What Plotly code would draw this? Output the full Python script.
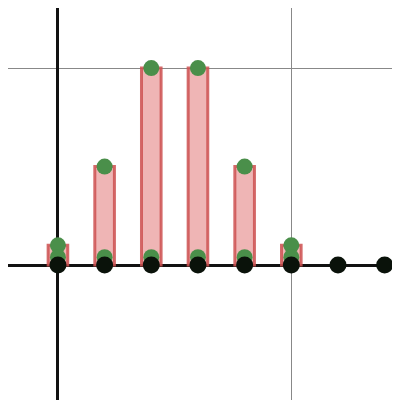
import plotly.graph_objects as go

ks = [0, 1, 2, 3, 4, 5]
coef = [1, 5, 10, 10, 5, 1]
dots_x = [0, 1, 2, 3, 4, 5, 6, 7]
dots_y = [0, 0, 0, 0, 0, 0, 0, 0]

fig = go.Figure()
fig.add_trace(go.Bar(x=ks, y=coef, width=0.42,
                     marker=dict(color="rgba(225,120,120,0.55)",
                                 line=dict(color="rgba(205,80,80,0.85)", width=3))))
fig.add_trace(go.Scatter(x=ks, y=coef, mode="markers",
                         marker=dict(color="#4a8f4a", size=16)))
fig.add_trace(go.Scatter(x=ks, y=[0.4]*len(ks), mode="markers",
                         marker=dict(color="#4a8f4a", size=16)))
fig.add_trace(go.Scatter(x=dots_x, y=dots_y, mode="markers",
                         marker=dict(color="#0a120a", size=17)))
fig.update_layout(width=400, height=400, autosize=False,
                  margin=dict(l=0, r=0, t=0, b=0, pad=0, autoexpand=False),
                  plot_bgcolor="white", paper_bgcolor="white", showlegend=False)
fig.update_xaxes(range=[-1.07, 7.5], dtick=5, showgrid=True, gridcolor="#888",
                 gridwidth=1, zeroline=True, zerolinecolor="#111", zerolinewidth=2.5,
                 showticklabels=False, fixedrange=True, automargin=False, ticks="")
fig.update_yaxes(range=[-7.26, 13.05], dtick=10, showgrid=True, gridcolor="#888",
                 gridwidth=1, zeroline=True, zerolinecolor="#111", zerolinewidth=2.5,
                 showticklabels=False, fixedrange=True, automargin=False, ticks="")
fig.write_html("out.html")
